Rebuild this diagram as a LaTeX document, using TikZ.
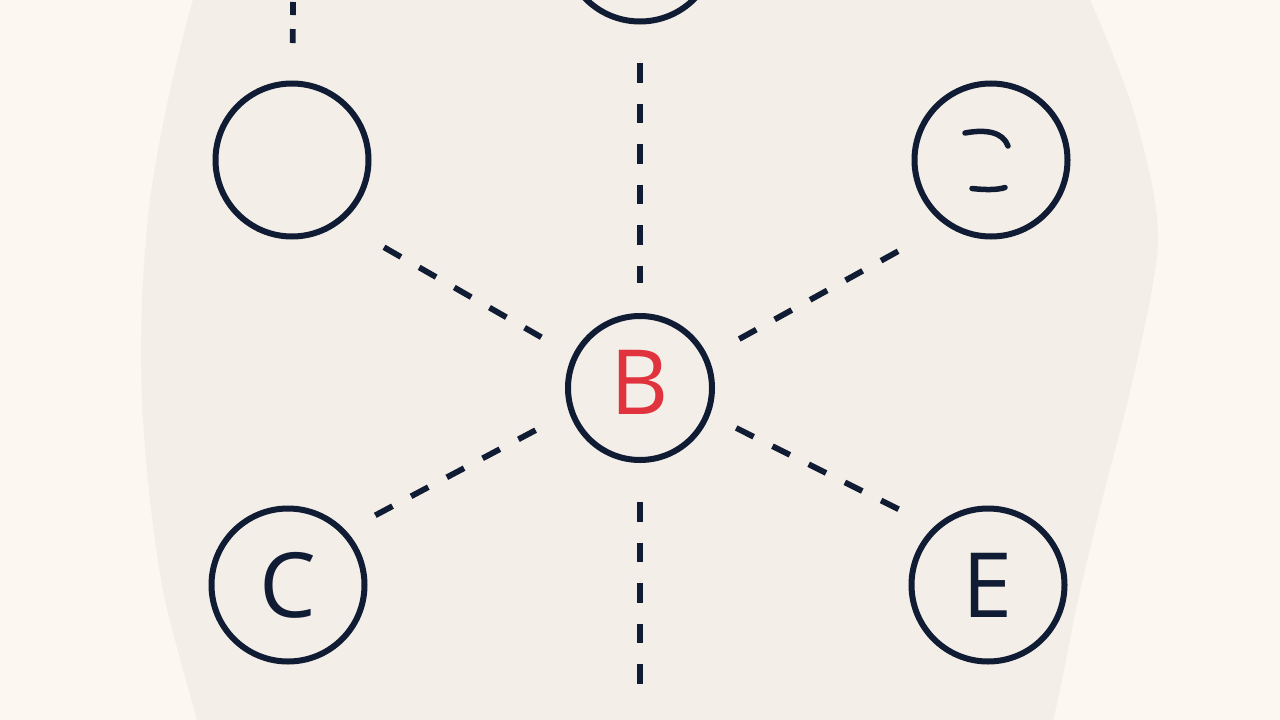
\documentclass[tikz,border=0pt]{standalone}
\usepackage{fontspec}
\setmainfont{Open Sans}
\definecolor{paper}{HTML}{FCF7F1}
\definecolor{blob}{HTML}{F3EEE7}
\definecolor{ink}{HTML}{101B34}
\definecolor{accent}{HTML}{E0333D}

\begin{document}
\begin{tikzpicture}[x=1pt,y=-1pt,
    ring/.style={circle,draw=ink,line width=6pt,minimum size=153pt,inner sep=0pt,text=ink,font=\fontsize{90}{90}\selectfont},
    link/.style={draw=ink,line width=5.8pt,dash pattern=on 19.5pt off 21pt}]
  \useasboundingbox (0,0) rectangle (1280,720);
  \fill[paper] (0,0) rectangle (1280,720);
  \fill[blob] plot[smooth] coordinates {(214,-50) (193,0) (168,100) (150,200) (142,300) (142,400) (150,500) (165,600) (197,720) (210,770)}
    -- (210,800) -- (1030,800)
    -- plot[smooth] coordinates {(1030,770) (1053,720) (1078,600) (1102,500) (1128,400) (1150,300) (1158,240) (1152,185) (1130,100) (1090,0) (1060,-50)}
    -- (1060,-80) -- (214,-80) -- cycle;
  % nodes
  \node[ring] (t) at (640,-55) {};
  \node[ring] (tl) at (292,160) {};
  \node[ring] (tr) at (991,160) {};
  \node[ring,minimum size=144pt,text=accent,text depth=12pt] (b) at (640,388) {B};
  \node[ring] (c) at (288,585) {C};
  \node[ring] (e) at (988,585) {E};
  \coordinate (tlend) at (293,2);
  \coordinate (bend) at (640,686);
  % half drawn letter
  \draw[ink,line width=5.5pt,line cap=round] (965,133) .. controls (986,129) and (1003,132) .. (1008,146);
  \draw[ink,line width=5.5pt,line cap=round] (972,188.5) .. controls (985,190) and (998,190) .. (1005,187.5);
  % links
  \draw[link,shorten <=38.5pt,shorten >=30pt] (t) -- (b);
  \draw[link,shorten <=39pt] (b) -- (bend);
  \draw[link,shorten <=49.6pt,shorten >=36pt] (tl.-52) -- (b.154);
  \draw[link,shorten <=35.7pt,shorten >=49pt] (b.25) -- (tr.235);
  \draw[link,shorten <=33pt,shorten >=36pt] (c.43) -- (b.199);
  \draw[link,shorten <=29.3pt,shorten >=36pt] (b.339) -- (e.133);
  \draw[link,dash pattern=on 14pt off 14pt,shorten <=37.5pt] (tl) -- (tlend);
\end{tikzpicture}
\end{document}
